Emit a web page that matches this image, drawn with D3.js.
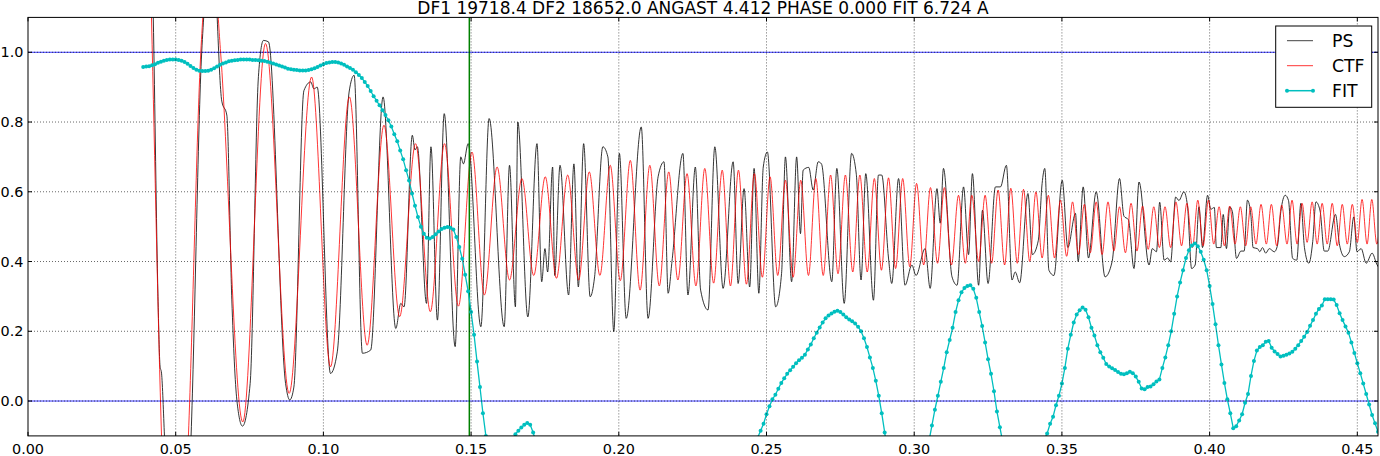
<!DOCTYPE html>
<html>
<head>
<meta charset="utf-8">
<script src="https://cdn.jsdelivr.net/npm/d3@7"></script>
<style>
  body { margin: 0; background: #fff; }
  svg { display: block; font-family: "DejaVu Sans", sans-serif; }
</style>
</head>
<body>
<div id="chart"></div>
<script>
// data
var titleText = "DF1 19718.4 DF2 18652.0 ANGAST 4.412 PHASE 0.000 FIT 6.724 A";
var legendLabels = ["PS", "CTF", "FIT"];

var xTicks = [0, 0.05, 0.10, 0.15, 0.20, 0.25, 0.30, 0.35, 0.40, 0.45];
var xTickLabels = ["0.00", "0.05", "0.10", "0.15", "0.20", "0.25", "0.30", "0.35", "0.40", "0.45"];
var yTicks = [0, 0.2, 0.4, 0.6, 0.8, 1.0];
var yTickLabels = ["0.0", "0.2", "0.4", "0.6", "0.8", "1.0"];

var refLines = [0, 1];
var fitLimit = 0.1494;

// PS (black)
var psX = [0.0400, 0.0424, 0.0440, 0.0447, 0.0452, 0.0462, 0.0500, 0.0552, 0.0588, 0.0625,
  0.0656, 0.0673, 0.0690, 0.0707, 0.0726, 0.0752, 0.0780, 0.0797, 0.0814, 0.0872,
  0.0886, 0.0900, 0.0934, 0.0957, 0.0968, 0.0979, 0.1024, 0.1047, 0.1087, 0.1104,
  0.1132, 0.1160, 0.1202, 0.1245, 0.1262, 0.1273, 0.1301, 0.1310, 0.1318, 0.1349,
  0.1364, 0.1386, 0.1409, 0.1446, 0.1465, 0.1474, 0.1490, 0.1533, 0.1561, 0.1612,
  0.1630, 0.1650, 0.1658, 0.1692, 0.1723, 0.1739, 0.1750, 0.1759, 0.1776, 0.1783,
  0.1801, 0.1830, 0.1848, 0.1863, 0.1881, 0.1903, 0.1918, 0.1946, 0.1963, 0.1983,
  0.2002, 0.2025, 0.2076, 0.2099, 0.2133, 0.2153, 0.2167, 0.2180, 0.2217, 0.2234,
  0.2259, 0.2277, 0.2302, 0.2325, 0.2353, 0.2387, 0.2404, 0.2424, 0.2443, 0.2458,
  0.2474, 0.2489, 0.2503, 0.2531, 0.2551, 0.2564, 0.2585, 0.2602, 0.2615, 0.2624,
  0.2643, 0.2658, 0.2675, 0.2686, 0.2721, 0.2738, 0.2763, 0.2788, 0.2804, 0.2820,
  0.2836, 0.2862, 0.2879, 0.2890, 0.2913, 0.2924, 0.2947, 0.2969, 0.2992, 0.3006,
  0.3037, 0.3054, 0.3077, 0.3088, 0.3099, 0.3128, 0.3145, 0.3167, 0.3184, 0.3197,
  0.3218, 0.3231, 0.3250, 0.3275, 0.3292, 0.3312, 0.3331, 0.3342, 0.3357, 0.3385,
  0.3400, 0.3420, 0.3433, 0.3442, 0.3456, 0.3473, 0.3501, 0.3520, 0.3546, 0.3555,
  0.3572, 0.3590, 0.3616, 0.3646, 0.3670, 0.3695, 0.3710, 0.3725, 0.3744, 0.3761,
  0.3795, 0.3806, 0.3820, 0.3831, 0.3846, 0.3858, 0.3868, 0.3885, 0.3896, 0.3913,
  0.3925, 0.3939, 0.3951, 0.3964, 0.3976, 0.3993, 0.4004, 0.4016, 0.4023, 0.4038,
  0.4046, 0.4057, 0.4068, 0.4077, 0.4091, 0.4106, 0.4117, 0.4128, 0.4140, 0.4147,
  0.4162, 0.4170, 0.4179, 0.4190, 0.4202, 0.4219, 0.4230, 0.4241, 0.4256, 0.4267,
  0.4281, 0.4295, 0.4309, 0.4321, 0.4336, 0.4349, 0.4360, 0.4374, 0.4388, 0.4400,
  0.4426, 0.4440, 0.4456, 0.4473, 0.4488, 0.4499, 0.4513, 0.4530, 0.4550, 0.4566,
  0.4584];
var psY = [1.80, 1.10, 0.30, 0.10, 0.08, -0.10, -0.80, -0.10, 1.00, 1.30,
  0.86, 0.82, 0.29, 0.003, -0.072, 0.05, 0.93, 1.034, 1.03, 0.05,
  0.003, 0.04, 0.89, 0.915, 0.895, 0.90, 0.079, 0.141, 0.886, 0.934,
  0.137, 0.146, 0.872, 0.208, 0.28, 0.27, 0.762, 0.72, 0.729, 0.28,
  0.729, 0.232, 0.824, 0.156, 0.70, 0.68, 0.738, 0.213, 0.81, 0.213,
  0.676, 0.27, 0.80, 0.241, 0.738, 0.342, 0.437, 0.37, 0.671, 0.36,
  0.676, 0.304, 0.68, 0.327, 0.738, 0.299, 0.356, 0.729, 0.70, 0.199,
  0.71, 0.237, 0.786, 0.237, 0.643, 0.686, 0.309, 0.40, 0.71, 0.304,
  0.671, 0.318, 0.261, 0.729, 0.323, 0.686, 0.337, 0.609, 0.327, 0.667,
  0.309, 0.671, 0.714, 0.27, 0.366, 0.70, 0.342, 0.70, 0.48, 0.662,
  0.67, 0.605, 0.686, 0.68, 0.342, 0.667, 0.28, 0.71, 0.65, 0.347,
  0.652, 0.289, 0.648, 0.648, 0.41, 0.337, 0.638, 0.332, 0.39, 0.36,
  0.437, 0.323, 0.609, 0.51, 0.667, 0.356, 0.332, 0.614, 0.42, 0.652,
  0.332, 0.547, 0.337, 0.614, 0.614, 0.676, 0.347, 0.37, 0.339, 0.595,
  0.42, 0.46, 0.624, 0.667, 0.375, 0.36, 0.633, 0.44, 0.538, 0.40,
  0.614, 0.41, 0.60, 0.356, 0.40, 0.638, 0.53, 0.52, 0.38, 0.628,
  0.39, 0.437, 0.428, 0.57, 0.404, 0.41, 0.399, 0.585, 0.575, 0.60,
  0.56, 0.38, 0.39, 0.557, 0.44, 0.59, 0.55, 0.555, 0.44, 0.44,
  0.535, 0.437, 0.557, 0.543, 0.409, 0.43, 0.43, 0.576, 0.53, 0.44,
  0.437, 0.428, 0.44, 0.424, 0.437, 0.428, 0.447, 0.543, 0.59, 0.575,
  0.409, 0.404, 0.567, 0.44, 0.395, 0.457, 0.571, 0.545, 0.43, 0.43,
  0.535, 0.447, 0.414, 0.428, 0.528, 0.428, 0.437, 0.395, 0.424, 0.392,
  0.37];

// CTF (red)
var ctfX = [0.0400, 0.0418, 0.0452, 0.0497, 0.0543, 0.0585, 0.0622, 0.0652, 0.0727, 0.0804,
  0.0884, 0.0960, 0.1024, 0.1088, 0.1148, 0.1205, 0.1258, 0.1312, 0.1362, 0.1410,
  0.1457, 0.1503, 0.1545, 0.1588, 0.1630, 0.1672, 0.1712, 0.1751, 0.1789, 0.1827,
  0.1864, 0.1900, 0.1936, 0.1971, 0.2005, 0.2039, 0.2072, 0.2105, 0.2137, 0.2169,
  0.2200, 0.2231, 0.2261, 0.2291, 0.2321, 0.2350, 0.2378, 0.2405, 0.2432, 0.2459,
  0.2486, 0.2512, 0.2538, 0.2564, 0.2590, 0.2616, 0.2642, 0.2667, 0.2692, 0.2717,
  0.2742, 0.2767, 0.2792, 0.2816, 0.2841, 0.2865, 0.2889, 0.2913, 0.2937, 0.2961,
  0.2985, 0.3008, 0.3032, 0.3055, 0.3079, 0.3102, 0.3126, 0.3150, 0.3173, 0.3195,
  0.3218, 0.3240, 0.3262, 0.3284, 0.3306, 0.3327, 0.3349, 0.3370, 0.3391, 0.3412,
  0.3433, 0.3454, 0.3475, 0.3495, 0.3516, 0.3536, 0.3556, 0.3576, 0.3596, 0.3616,
  0.3636, 0.3656, 0.3676, 0.3695, 0.3715, 0.3734, 0.3754, 0.3773, 0.3792, 0.3811,
  0.3830, 0.3849, 0.3868, 0.3886, 0.3905, 0.3923, 0.3942, 0.3960, 0.3978, 0.3996,
  0.4014, 0.4032, 0.4050, 0.4068, 0.4086, 0.4104, 0.4122, 0.4139, 0.4157, 0.4174,
  0.4192, 0.4209, 0.4227, 0.4244, 0.4262, 0.4279, 0.4296, 0.4313, 0.4330, 0.4347,
  0.4364, 0.4381, 0.4398, 0.4415, 0.4432, 0.4449, 0.4466, 0.4483, 0.4500, 0.4516,
  0.4533, 0.4549, 0.4566, 0.4582];
var ctfY = [1.75, 1.10, -0.10, -0.85, -0.10, 1.00, 1.30, 1.00, -0.06, 1.025,
  0.022, 0.929, 0.098, 0.872, 0.160, 0.791, 0.242, 0.738, 0.256, 0.738,
  0.272, 0.714, 0.304, 0.671, 0.347, 0.638, 0.360, 0.643, 0.352, 0.648,
  0.347, 0.657, 0.360, 0.676, 0.345, 0.690, 0.318, 0.676, 0.330, 0.657,
  0.347, 0.652, 0.330, 0.667, 0.338, 0.662, 0.330, 0.662, 0.335, 0.652,
  0.355, 0.643, 0.360, 0.633, 0.355, 0.633, 0.360, 0.638, 0.360, 0.648,
  0.365, 0.648, 0.370, 0.648, 0.370, 0.638, 0.375, 0.640, 0.380, 0.638,
  0.385, 0.624, 0.390, 0.612, 0.395, 0.612, 0.390, 0.590, 0.395, 0.590,
  0.400, 0.590, 0.395, 0.605, 0.390, 0.610, 0.395, 0.607, 0.400, 0.600,
  0.410, 0.590, 0.410, 0.576, 0.415, 0.571, 0.420, 0.564, 0.425, 0.571,
  0.420, 0.571, 0.430, 0.557, 0.425, 0.567, 0.430, 0.559, 0.435, 0.557,
  0.440, 0.557, 0.440, 0.571, 0.445, 0.567, 0.440, 0.576, 0.445, 0.576,
  0.450, 0.557, 0.445, 0.559, 0.450, 0.557, 0.445, 0.557, 0.450, 0.564,
  0.450, 0.564, 0.445, 0.562, 0.450, 0.576, 0.450, 0.567, 0.455, 0.571,
  0.450, 0.567, 0.450, 0.567, 0.445, 0.564, 0.450, 0.564, 0.455, 0.578,
  0.450, 0.578, 0.450, 0.581];

// FIT (cyan), one value every 0.001 starting at 0.039
var fitStart = 0.039;
var fitStep = 0.001;
var fitY = [
  0.958,                                                                   // 0.039
  0.959, 0.960, 0.963, 0.966, 0.970, 0.973, 0.976, 0.978, 0.979, 0.979,   // 0.040
  0.979, 0.978, 0.976, 0.972, 0.967, 0.961, 0.955, 0.950, 0.947, 0.946,   // 0.050
  0.946, 0.947, 0.950, 0.954, 0.959, 0.964, 0.968, 0.971, 0.974, 0.976,   // 0.060
  0.977, 0.978, 0.979, 0.979, 0.979, 0.979, 0.978, 0.978, 0.977, 0.976,   // 0.070
  0.975, 0.973, 0.971, 0.968, 0.965, 0.962, 0.959, 0.956, 0.953, 0.951,   // 0.080
  0.950, 0.949, 0.948, 0.948, 0.948, 0.949, 0.951, 0.954, 0.958, 0.962,   // 0.090
  0.966, 0.969, 0.971, 0.972, 0.972, 0.971, 0.968, 0.964, 0.959, 0.955,   // 0.100
  0.950, 0.943, 0.935, 0.926, 0.915, 0.903, 0.889, 0.874, 0.861, 0.848,   // 0.110
  0.834, 0.820, 0.805, 0.787, 0.765, 0.745, 0.718, 0.693, 0.662, 0.632,   // 0.120
  0.595, 0.560, 0.528, 0.500, 0.480, 0.468, 0.466, 0.470, 0.478, 0.486,   // 0.130
  0.493, 0.497, 0.499, 0.497, 0.492, 0.470, 0.442, 0.408, 0.362, 0.315,   // 0.140
  0.255, 0.190, 0.113, 0.040, -0.035, -0.100, -0.160, -0.210, -0.250, -0.270, // 0.150
  -0.260, -0.225, -0.180, -0.140, -0.110, -0.095, -0.085, -0.076, -0.068, -0.063, // 0.160
  -0.068, -0.090, -0.120, -0.150, -0.190, -0.230, -0.260, -0.290, -0.310, -0.330, // 0.170
  -0.350, -0.360, -0.370, -0.380, -0.390, -0.400, -0.400, -0.410, -0.410, -0.420, // 0.180
  -0.420, -0.420, -0.420, -0.420, -0.410, -0.410, -0.400, -0.400, -0.390, -0.380, // 0.190
  -0.370, -0.360, -0.350, -0.340, -0.330, -0.320, -0.310, -0.300, -0.300, -0.290, // 0.200
  -0.290, -0.290, -0.290, -0.290, -0.300, -0.300, -0.310, -0.320, -0.330, -0.340, // 0.210
  -0.350, -0.360, -0.370, -0.380, -0.380, -0.390, -0.390, -0.390, -0.380, -0.370, // 0.220
  -0.360, -0.350, -0.330, -0.310, -0.290, -0.270, -0.250, -0.230, -0.210, -0.190, // 0.230
  -0.170, -0.155, -0.145, -0.135, -0.125, -0.118, -0.110, -0.105, -0.085, -0.065, // 0.240
  -0.038, -0.015, 0.005, 0.018, 0.035, 0.052, 0.065, 0.078, 0.088, 0.098,  // 0.250
  0.108, 0.117, 0.124, 0.133, 0.148, 0.162, 0.180, 0.196, 0.211, 0.225,   // 0.260
  0.237, 0.245, 0.251, 0.256, 0.259, 0.255, 0.248, 0.240, 0.234, 0.229,   // 0.270
  0.222, 0.213, 0.200, 0.180, 0.155, 0.125, 0.095, 0.058, 0.015, -0.035,  // 0.280
  -0.090, -0.150, -0.210, -0.260, -0.300, -0.330, -0.345, -0.350, -0.340, -0.320, // 0.290
  -0.290, -0.250, -0.210, -0.170, -0.140, -0.115, -0.070, -0.025, 0.015, 0.055, // 0.300
  0.095, 0.140, 0.175, 0.210, 0.255, 0.289, 0.312, 0.324, 0.330, 0.332,   // 0.310
  0.322, 0.296, 0.255, 0.215, 0.168, 0.120, 0.078, 0.028, -0.030, -0.075, // 0.320
  -0.120, -0.170, -0.220, -0.260, -0.290, -0.310, -0.320, -0.320, -0.310, -0.290, // 0.330
  -0.260, -0.220, -0.180, -0.140, -0.110, -0.093, -0.065, -0.045, -0.012, 0.015, // 0.340
  0.050, 0.095, 0.150, 0.190, 0.225, 0.248, 0.260, 0.268, 0.262, 0.240,   // 0.350
  0.210, 0.188, 0.160, 0.140, 0.124, 0.106, 0.099, 0.094, 0.089, 0.083,   // 0.360
  0.078, 0.077, 0.080, 0.084, 0.080, 0.070, 0.055, 0.036, 0.034, 0.040,   // 0.370
  0.042, 0.048, 0.056, 0.062, 0.095, 0.125, 0.160, 0.200, 0.250, 0.300,   // 0.380
  0.340, 0.375, 0.410, 0.432, 0.446, 0.452, 0.444, 0.428, 0.405, 0.375,   // 0.390
  0.330, 0.278, 0.220, 0.160, 0.105, 0.052, 0.005, -0.035, -0.078, -0.072, // 0.400
  -0.056, -0.038, -0.005, 0.020, 0.072, 0.115, 0.145, 0.155, 0.160, 0.170, // 0.410
  0.172, 0.153, 0.142, 0.135, 0.128, 0.130, 0.133, 0.136, 0.141, 0.150,   // 0.420
  0.160, 0.172, 0.184, 0.198, 0.216, 0.232, 0.250, 0.264, 0.274, 0.292,   // 0.430
  0.292, 0.292, 0.291, 0.275, 0.252, 0.232, 0.214, 0.196, 0.168, 0.138,   // 0.440
  0.108, 0.080, 0.050, 0.020, -0.010, -0.040, -0.064, -0.088, -0.110      // 0.450
];

var svgWidth = 1380;
var svgHeight = 456;
var margin = { top: 17.4, right: 2, bottom: 20.1, left: 28 };
var width = svgWidth - margin.left - margin.right;
var height = svgHeight - margin.top - margin.bottom;

var svg = d3.select("#chart")
  .append("svg")
  .attr("width", svgWidth)
  .attr("height", svgHeight);

var chart = svg.append("g")
  .attr("transform", "translate(" + margin.left + "," + margin.top + ")");

var x = d3.scaleLinear().domain([0, 0.457]).range([0, width]);
var y = d3.scaleLinear().domain([-0.1, 1.1]).range([height, 0]);

chart.append("clipPath").attr("id", "plotClip")
  .append("rect").attr("width", width).attr("height", height);

var plot = chart.append("g").attr("clip-path", "url(#plotClip)");

// blue reference lines at 0 and 1
plot.selectAll(".ref").data(refLines).enter().append("line")
  .attr("x1", 0).attr("x2", width)
  .attr("y1", function(d) { return y(d); })
  .attr("y2", function(d) { return y(d); })
  .attr("stroke", "blue").attr("stroke-width", 0.8);

var psData = psX.map(function(v, i) { return [v, psY[i]]; });
var ctfData = ctfX.map(function(v, i) { return [v, ctfY[i]]; });
var fitData = fitY.map(function(v, i) { return [fitStart + i * fitStep, v]; });

var line = d3.line()
  .x(function(d) { return x(d[0]); })
  .y(function(d) { return y(d[1]); })
  .curve(d3.curveMonotoneX);

plot.append("path").datum(psData)
  .attr("d", line).attr("fill", "none")
  .attr("stroke", "#111").attr("stroke-width", 0.85);

plot.append("path").datum(ctfData)
  .attr("d", line).attr("fill", "none")
  .attr("stroke", "red").attr("stroke-width", 0.8);

// green marker for the fit limit
plot.append("line")
  .attr("x1", x(fitLimit)).attr("x2", x(fitLimit))
  .attr("y1", 0).attr("y2", height)
  .attr("stroke", "green").attr("stroke-width", 1.5);

var fitLine = d3.line()
  .x(function(d) { return x(d[0]); })
  .y(function(d) { return y(d[1]); });

plot.append("path").datum(fitData)
  .attr("d", fitLine).attr("fill", "none")
  .attr("stroke", "#00bfbf").attr("stroke-width", 1.3);

plot.selectAll(".fitdot").data(fitData).enter().append("circle")
  .attr("cx", function(d) { return x(d[0]); })
  .attr("cy", function(d) { return y(d[1]); })
  .attr("r", 2)
  .attr("fill", "#00bfbf");

// dotted grid
chart.selectAll(".xgrid").data(xTicks.slice(1)).enter().append("line")
  .attr("x1", function(d) { return x(d); })
  .attr("x2", function(d) { return x(d); })
  .attr("y1", 0).attr("y2", height)
  .attr("stroke", "#000").attr("stroke-width", 0.6)
  .attr("stroke-dasharray", "1,2");

chart.selectAll(".ygrid").data(yTicks).enter().append("line")
  .attr("x1", 0).attr("x2", width)
  .attr("y1", function(d) { return y(d); })
  .attr("y2", function(d) { return y(d); })
  .attr("stroke", "#000").attr("stroke-width", 0.6)
  .attr("stroke-dasharray", "1,2");

// inward ticks on all four sides
xTicks.forEach(function(t) {
  chart.append("line").attr("x1", x(t)).attr("x2", x(t))
    .attr("y1", height).attr("y2", height - 4).attr("stroke", "#000");
  chart.append("line").attr("x1", x(t)).attr("x2", x(t))
    .attr("y1", 0).attr("y2", 4).attr("stroke", "#000");
});
yTicks.forEach(function(t) {
  chart.append("line").attr("x1", 0).attr("x2", 4)
    .attr("y1", y(t)).attr("y2", y(t)).attr("stroke", "#000");
  chart.append("line").attr("x1", width - 4).attr("x2", width)
    .attr("y1", y(t)).attr("y2", y(t)).attr("stroke", "#000");
});

// tick labels
chart.selectAll(".xlab").data(xTicks).enter().append("text")
  .attr("x", function(d) { return x(d); })
  .attr("y", height + 18.2)
  .attr("text-anchor", "middle")
  .attr("font-size", "14.4px")
  .text(function(d, i) { return xTickLabels[i]; });

chart.selectAll(".ylab").data(yTicks).enter().append("text")
  .attr("x", -4.5)
  .attr("y", function(d) { return y(d); })
  .attr("dy", "0.36em")
  .attr("text-anchor", "end")
  .attr("font-size", "14.4px")
  .text(function(d, i) { return yTickLabels[i]; });

// frame
chart.append("rect")
  .attr("width", width).attr("height", height)
  .attr("fill", "none").attr("stroke", "#000").attr("stroke-width", 1);

// title
chart.append("text")
  .attr("x", width / 2)
  .attr("y", -3.8)
  .attr("text-anchor", "middle")
  .attr("font-size", "17px")
  .text(titleText);

// legend
var legend = chart.append("g").attr("transform", "translate(1247.7,8.6)");
legend.append("rect")
  .attr("width", 96).attr("height", 81.3)
  .attr("fill", "#fff").attr("stroke", "#000").attr("stroke-width", 1);

var legendColors = ["#111", "red", "#00bfbf"];
var legendWidths = [0.8, 0.8, 1.5];
legendLabels.forEach(function(name, i) {
  var ly = 14.7 + i * 25;
  legend.append("line")
    .attr("x1", 11.3).attr("x2", 37.3)
    .attr("y1", ly).attr("y2", ly)
    .attr("stroke", legendColors[i]).attr("stroke-width", legendWidths[i]);
  if (name === "FIT") {
    [11.3, 37.3].forEach(function(cx) {
      legend.append("circle").attr("cx", cx).attr("cy", ly)
        .attr("r", 2).attr("fill", legendColors[i]);
    });
  }
  legend.append("text")
    .attr("x", 56.3).attr("y", ly).attr("dy", "0.36em")
    .attr("font-size", "17.3px")
    .text(name);
});
</script>
</body>
</html>
